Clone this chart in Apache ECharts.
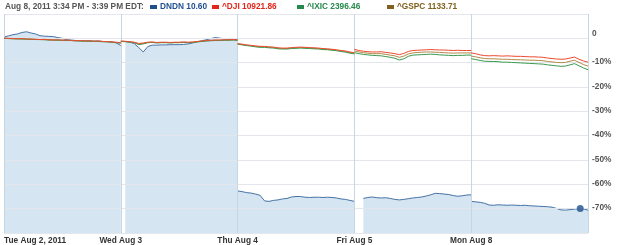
<!DOCTYPE html>
<html><head><meta charset="utf-8">
<script src="https://cdn.jsdelivr.net/npm/echarts@6/dist/echarts.min.js"></script>
<style>html,body{margin:0;padding:0;background:#fff}#c{width:620px;height:245px}</style>
</head><body><div id="c"></div>
<script>
// Trading days shown (each session 9:30-16:00 = 390 minutes)
const dayLabels = ['Tue Aug 2, 2011', 'Wed Aug 3', 'Thu Aug 4', 'Fri Aug 5', 'Mon Aug 8'];
const STEP = 15;      // minutes between readings
const SESSION = 390;  // minutes per session

// % change readings, one row per day, every 15 min (null = no data)
const dndn = [
  [0.6, 1.0, 1.5, 1.8, 2.4, 2.7, 2.2, 1.8, 1.1, 0.9, 0.8, 0.7, 0.3, 0.0, -0.6, -0.7, -0.9, -1.0, -1.1, -1.0, -1.2, -1.1, -1.3, -1.4, -1.5, -1.9, -3.0],
  [null, -1.3, -1.5, -2.2, -3.8, -5.6, -3.4, -2.8, -2.8, -2.7, -2.7, -2.6, -2.6, -2.6, -2.5, -2.3, -1.9, -1.4, -1.0, -0.6, -0.1, 0.3, 0.1, -0.2, -0.4, -0.5, -0.5],
  [-62.7, -63.0, -63.4, -63.6, -64.0, -64.5, -66.8, -67.0, -66.6, -66.4, -66.0, -65.8, -65.2, -65.0, -65.0, -65.3, -65.4, -65.3, -65.3, -65.4, -65.3, -65.4, -65.6, -66.0, -66.2, -66.6, -67.0],
  [null, null, -65.8, -65.4, -65.2, -65.5, -65.6, -65.5, -65.8, -66.2, -66.4, -66.2, -65.9, -65.6, -65.4, -65.2, -64.8, -64.3, -63.7, -63.8, -64.0, -64.2, -64.6, -64.9, -64.7, -64.4, -64.3],
  [-67.0, -67.2, -67.4, -67.8, -68.5, -68.6, -68.4, -68.5, -68.6, -68.5, -68.6, -68.7, -68.6, -68.8, -68.9, -69.0, -69.1, -69.2, -69.4, -69.9, -70.5, -70.6, -70.4, -70.2, -70.0, -70.1, -70.6]
];
const dji = [
  [0.1, 0.0, -0.1, -0.2, -0.1, -0.3, -0.3, -0.4, -0.5, -0.4, -0.6, -0.7, -0.6, -0.8, -0.7, -0.9, -1.0, -0.9, -1.1, -1.0, -1.2, -1.1, -1.3, -1.3, -1.5, -1.6, -1.8],
  [-1.1, -1.2, -1.4, -1.6, -2.1, -1.9, -1.6, -1.5, -1.7, -1.6, -1.6, -1.7, -1.6, -1.6, -1.5, -1.6, -1.5, -1.3, -1.1, -0.9, -0.8, -0.7, -0.7, -0.6, -0.6, -0.5, -0.6],
  [-2.2, -2.4, -2.7, -2.9, -3.1, -3.3, -3.3, -3.5, -3.6, -3.9, -4.0, -4.0, -3.8, -3.7, -3.6, -3.7, -3.8, -3.9, -4.0, -4.2, -4.3, -4.5, -4.7, -5.0, -5.2, -5.6, -5.9],
  [-4.5, -5.0, -5.3, -5.5, -5.6, -5.6, -5.5, -5.8, -6.0, -6.3, -6.7, -6.2, -5.4, -5.0, -4.9, -4.8, -4.7, -4.6, -4.7, -4.8, -4.8, -4.9, -5.0, -4.9, -5.0, -5.0, -5.0],
  [-6.0, -6.3, -6.8, -7.1, -7.2, -7.1, -7.2, -7.3, -7.2, -7.3, -7.4, -7.4, -7.5, -7.6, -7.6, -7.7, -7.8, -8.1, -8.3, -8.5, -8.6, -8.5, -8.1, -7.7, -8.6, -9.3, -9.8]
];
const ixic = [
  [0.0, -0.1, -0.2, -0.2, -0.3, -0.3, -0.4, -0.5, -0.5, -0.6, -0.7, -0.7, -0.8, -0.8, -0.9, -0.9, -1.0, -1.1, -1.1, -1.2, -1.2, -1.3, -1.4, -1.4, -1.6, -1.8, -2.0],
  [-1.3, -1.4, -1.6, -1.8, -2.6, -2.3, -1.8, -1.7, -1.9, -1.8, -1.8, -1.9, -1.8, -1.8, -1.7, -1.8, -1.7, -1.5, -1.3, -1.1, -1.0, -0.9, -0.9, -0.8, -0.8, -0.7, -0.8],
  [-2.4, -2.7, -3.0, -3.2, -3.5, -3.7, -3.7, -3.9, -4.0, -4.3, -4.4, -4.4, -4.2, -4.1, -4.0, -4.1, -4.2, -4.3, -4.4, -4.6, -4.7, -4.9, -5.1, -5.4, -5.7, -6.1, -6.4],
  [-5.9, -6.3, -6.6, -6.8, -7.0, -7.1, -7.2, -7.5, -7.8, -8.2, -8.9, -8.4, -7.4, -6.9, -6.8, -6.7, -6.6, -6.5, -6.6, -6.8, -6.9, -7.0, -7.1, -7.0, -7.0, -6.9, -6.9],
  [-8.4, -8.7, -9.1, -9.4, -9.5, -9.5, -9.6, -9.8, -9.8, -9.9, -10.0, -10.1, -10.2, -10.3, -10.4, -10.5, -10.6, -10.9, -11.1, -11.3, -11.5, -11.4, -10.9, -10.4, -11.3, -12.2, -12.9]
];
const gspc = [
  [0.0, -0.1, -0.1, -0.2, -0.2, -0.3, -0.4, -0.4, -0.5, -0.5, -0.6, -0.7, -0.7, -0.8, -0.8, -0.9, -1.0, -1.0, -1.1, -1.1, -1.2, -1.2, -1.3, -1.4, -1.5, -1.7, -1.9],
  [-1.2, -1.3, -1.5, -1.7, -2.3, -2.1, -1.7, -1.6, -1.8, -1.7, -1.7, -1.8, -1.7, -1.7, -1.6, -1.7, -1.6, -1.4, -1.2, -1.0, -0.9, -0.8, -0.8, -0.7, -0.7, -0.6, -0.7],
  [-2.3, -2.5, -2.8, -3.0, -3.3, -3.5, -3.5, -3.7, -3.8, -4.1, -4.2, -4.2, -4.0, -3.9, -3.8, -3.9, -4.0, -4.1, -4.2, -4.4, -4.5, -4.7, -4.9, -5.2, -5.4, -5.8, -6.1],
  [-5.2, -5.6, -5.9, -6.1, -6.3, -6.3, -6.3, -6.6, -6.9, -7.2, -7.8, -7.3, -6.4, -6.0, -5.8, -5.7, -5.6, -5.6, -5.7, -5.8, -5.9, -6.0, -6.1, -6.0, -6.0, -6.0, -6.0],
  [-7.3, -7.6, -8.0, -8.3, -8.4, -8.4, -8.5, -8.6, -8.6, -8.7, -8.8, -8.8, -8.9, -9.0, -9.0, -9.1, -9.2, -9.5, -9.7, -9.9, -10.0, -9.9, -9.4, -9.0, -9.9, -10.8, -11.4]
];
// hovered reading: Mon Aug 8, 3:34 PM (minute 364 of the session)
const hoverDay = 4, hoverMinute = 364, hoverValue = -69.9;
const legendItems = [
  { name: 'DNDN', text: 'DNDN 10.60', color: '#1f4f8f' },
  { name: '^DJI', text: '^DJI 10921.86', color: '#e3261a' },
  { name: '^IXIC', text: '^IXIC 2396.46', color: '#24894a' },
  { name: '^GSPC', text: '^GSPC 1133.71', color: '#80601c' }
];
const headerText = 'Aug 8, 2011 3:34 PM - 3:39 PM EDT:';
const yTicks = [0, -10, -20, -30, -40, -50, -60, -70];

function build(days) {
  const out = [];
  days.forEach((vals, d) => {
    if (d > 0) out.push([d * SESSION, '-']);
    vals.forEach((v, i) => out.push([d * SESSION + i * STEP, v === null ? '-' : v]));
  });
  return out;
}

const FONT = "'Liberation Sans', Arial, sans-serif";
const FS = 8.3;
const legendX = [150, 212, 297, 387];
const graphics = [
  { type: 'text', left: 5, top: 3, style: { text: headerText, fill: '#555', font: `bold ${FS}px ${FONT}` } },
  { type: 'text', left: 7, top: 221, style: { text: '\u00A9 2011 Yahoo! Inc.', fill: '#a9b9c8', font: `7.6px ${FONT}` } }
];
legendItems.forEach((it, k) => {
  graphics.push({ type: 'rect', shape: { x: legendX[k], y: 5, width: 7, height: 4 }, style: { fill: it.color } });
  graphics.push({ type: 'text', left: legendX[k] + 10, top: 3, style: { text: it.text, fill: it.color, font: `bold ${FS}px ${FONT}` } });
});

const chart = echarts.init(document.getElementById('c'), null, { renderer: 'canvas' });
chart.setOption({
  animation: false,
  backgroundColor: '#fff',
  textStyle: { fontFamily: FONT },
  grid: { left: 4, right: 32, top: 14, bottom: 11, containLabel: false },
  graphic: graphics,
  xAxis: {
    type: 'value', min: 0, max: SESSION * 5, interval: SESSION, z: 3,
    axisLine: { show: false }, axisTick: { show: false },
    splitLine: { show: true, lineStyle: { color: '#c8d5e2', width: 1 } },
    axisLabel: {
      margin: 4, color: '#333', fontWeight: 'bold', fontSize: FS, fontFamily: FONT,
      alignMinLabel: 'left', showMaxLabel: false,
      formatter: v => dayLabels[Math.round(v / SESSION)] || ''
    }
  },
  yAxis: {
    type: 'value', position: 'right', min: -80, max: 10, interval: 10, z: 3,
    axisLine: { show: false }, axisTick: { show: false },
    splitLine: { show: true, lineStyle: { color: '#e3e7ec', width: 1 } },
    axisLabel: {
      margin: 4, color: '#555', fontWeight: 'bold', fontSize: FS, fontFamily: FONT,
      formatter: v => {
        if (yTicks.indexOf(v) < 0) return '';
        return v === 0 ? '{z|0}' : '{a|' + v + '%}';
      },
      rich: {
        z: { padding: [0, 0, 10, 0], fontWeight: 'bold', fontSize: FS, color: '#555' },
        a: { padding: [0, 0, 1, 0], fontWeight: 'bold', fontSize: FS, color: '#555' }
      }
    }
  },
  series: [
    { name: 'DNDN', type: 'line', z: 2, data: build(dndn), showSymbol: false, connectNulls: false,
      lineStyle: { color: '#4672a6', width: 1 }, areaStyle: { color: '#d6e5f2', opacity: 1, origin: 'start' } },
    { name: '^GSPC', type: 'line', z: 5, data: build(gspc), showSymbol: false, lineStyle: { color: '#b08a4a', width: 1 } },
    { name: '^IXIC', type: 'line', z: 5, data: build(ixic), showSymbol: false, lineStyle: { color: '#3a9a4e', width: 1 } },
    { name: '^DJI', type: 'line', z: 6, data: build(dji), showSymbol: false, lineStyle: { color: '#ee4a30', width: 1 } },
    { name: 'hover', type: 'scatter', z: 7, symbol: 'circle', symbolSize: 7,
      itemStyle: { color: '#1f4f8f' }, data: [[hoverDay * SESSION + hoverMinute, hoverValue]] }
  ]
});
</script></body></html>
